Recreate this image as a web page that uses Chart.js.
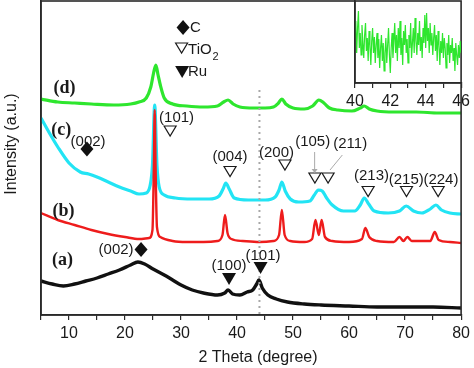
<!DOCTYPE html>
<html><head><meta charset="utf-8">
<script src="https://cdn.jsdelivr.net/npm/chart.js@4"></script>
<style>
html,body{margin:0;padding:0;background:#fff;}
#wrap{position:relative;width:474px;height:368px;overflow:hidden;}
#main{position:absolute;left:0;top:0;}
#inset{position:absolute;left:342px;top:0;}
</style></head><body>
<div id="wrap"><canvas id="main" width="474" height="368"></canvas><canvas id="inset" width="132" height="112"></canvas></div>
<script>
// ---- data (2 theta in degrees, intensity in arbitrary units with vertical offsets) ----
const seriesA = [[5,34],[7,31],[9,29],[11,31],[13,34],[15,37],[17,41],[19,45],[21,50],[22.3,53],[23.5,51],[25,46],[27,40],[28.5,35],[30,30],[32,25],[34,22],[36.5,20],[37.8,22],[38.4,25],[39.2,21],[40.5,20],[41.8,23],[42.8,25],[43.5,31],[43.9,35],[44.5,27],[45.5,20],[47,16],[49,13],[52,11],[55,10],[60,9],[65,8],[70,8],[75,8],[80,7]];
const seriesB = [[5,102],[8,95],[11,90],[14,85],[17,81],[20,78],[22.5,76],[24.3,77],[24.9,85],[25.15,150],[25.3,205],[25.45,150],[25.7,88],[26.3,78],[28.5,74],[31,73],[34,73],[36.5,74],[37.4,80],[37.85,100],[38.3,82],[39,76],[41,74],[44,73],[46.5,74],[47.5,80],[48,105],[48.5,80],[49.5,74],[52,73],[53.4,76],[54,95],[54.6,80],[55.1,95],[55.7,78],[57,74],[60,73],[62.3,76],[62.9,87],[63.6,78],[65,74],[68,73],[69,78],[69.7,74],[70.4,78],[71.2,74],[74.5,74],[75.3,83],[76,75],[78,73],[80,72]];
const seriesC = [[5,197],[6.5,182],[8,168],[10,152],[12,143],[13.5,141],[15,138],[17,133],[19,128],[21,124],[22.5,121],[23.8,122],[24.5,130],[24.9,150],[25.3,210],[25.7,150],[26.1,128],[27,120],[29,117],[32,116],[35,116],[36.8,119],[37.5,126],[38,132],[38.6,126],[39.5,117],[42,115],[45,115],[46.8,118],[47.5,125],[48,133],[48.6,124],[49.5,116],[51,113],[53,114],[53.8,120],[54.5,125],[55.2,124],[56,117],[57,110],[59,104],[61,104],[62,110],[62.7,117],[63.5,111],[64.5,104],[67,102],[69,104],[70.2,109],[71.5,104],[73,102],[74.5,106],[75.5,110],[76.5,105],[78,102],[80,101]];
const seriesD = [[5,216],[8,213],[11,212],[14,211],[18,210],[21,211],[22.5,213],[23.8,217],[24.6,228],[25.1,242],[25.5,250],[25.9,240],[26.3,230],[27,217],[28.5,211],[31,209],[34,208],[36.5,209],[37.6,213],[38.4,215],[39.3,211],[40.5,208],[43,207],[45,207],[46.5,208],[47.4,212],[48,216],[48.7,211],[50,207],[52,206],[53.5,209],[54.6,215],[55.5,212],[56.5,207],[58,205],[60.5,204],[62,207],[62.7,209],[63.6,206],[65,204],[68,203],[72,203],[76,202],[80,202]];
const xTicksMain = [10,20,30,40,50,60,70,80];
// inset: green sample (d) zoomed 40-46 deg
const insetStart = 40, insetStep = 0.05;
const insetValues = [45,62,30,55,72,35,50,28,58,40, 25,48,60,32,45,22,52,38,18,42, 55,30,46,20,38,50,25,44,15,35, 48,22,40,12,30,45,20,38,55,28, 10,35,50,25,42,60,30,48,22,55, 35,62,28,45,18,52,38,58,30,44, 20,48,35,60,25,40,55,30,65,42, 28,50,38,62,32,46,25,55,40,68, 35,70,42,55,30,60,38,50,28,45, 58,32,48,22,52,38,18,42,30,50, 25,45,35,15,40,28,48,20,38,30, 45,22,35,12,40,28,18,38,25,42, 30];
const xTicksInset = [40,42,44,46];

// ---- annotation positions (deg, value) ----
const sampleLabels = [['(d)',9.2,227],['(c)',8.6,185],['(b)',9.0,104],['(a)',8.85,54.5]];
const hklOpen = [ // text, text deg, text v, marker deg, marker v
  ['(101)',29.2,197,28.05,184],['(004)',38.75,158.5,38.75,143.5],['(200)',47.05,162.5,48.55,150],
  ['(105)',53.5,173.5,53.9,137],['(211)',60.2,171.5,56.25,137],
  ['(213)',64.0,139.5,63.4,123.5],['(215)',70.2,135.5,70.25,123.5],['(224)',76.4,135.5,75.9,123.5]];
const hklFilled = [['(100)',38.57,49.5,38.57,36],['(101)',44.64,59.5,44.2,47]];
const hklCarbon = [['(002)',13.4,173,13.2,166],['(002)',18.4,65.5,22.86,65.5]];

const FONT = "'Liberation Sans', Arial, sans-serif";
const SERIF = "'Liberation Serif', 'Times New Roman', serif";

function triOpen(c,x,y){c.beginPath();c.moveTo(x-6,y-5);c.lineTo(x+6,y-5);c.lineTo(x,y+5);c.closePath();c.lineWidth=1.2;c.strokeStyle='#1a1a1a';c.stroke();}
function triFilled(c,x,y){c.beginPath();c.moveTo(x-7,y-6);c.lineTo(x+7,y-6);c.lineTo(x,y+6);c.closePath();c.fillStyle='#111';c.fill();}
function diamond(c,x,y){c.beginPath();c.moveTo(x,y-7.5);c.lineTo(x+6.5,y);c.lineTo(x,y+7.5);c.lineTo(x-6.5,y);c.closePath();c.fillStyle='#111';c.fill();}

const annot = {
  id:'annot',
  afterDatasetsDraw(chart){
    const c=chart.ctx, xs=chart.scales.x, ys=chart.scales.y, a=chart.chartArea;
    const X=d=>xs.getPixelForValue(d), Y=v=>ys.getPixelForValue(v);
    c.save();
    // dotted reference line at 44 deg
    c.strokeStyle='#a8a8a8'; c.lineWidth=2; c.setLineDash([2,4]);
    c.beginPath(); c.moveTo(X(44),Y(225)); c.lineTo(X(44),a.bottom); c.stroke();
    c.setLineDash([]);
    // frame
    c.strokeStyle='#2a2a2a'; c.lineWidth=1.6;
    c.strokeRect(a.left,a.top,a.right-a.left,a.bottom-a.top);
    // sample labels
    c.fillStyle='#1a1a1a'; c.textAlign='center'; c.textBaseline='middle';
    c.font="bold 18px "+SERIF;
    sampleLabels.forEach(s=>c.fillText(s[0],X(s[1]),Y(s[2])));
    // hkl labels
    c.font="15px "+FONT;
    hklOpen.forEach(h=>{c.fillStyle='#1a1a1a';c.fillText(h[0],X(h[1]),Y(h[2]));triOpen(c,X(h[3]),Y(h[4]));});
    hklFilled.forEach(h=>{c.fillStyle='#1a1a1a';c.fillText(h[0],X(h[1]),Y(h[2]));triFilled(c,X(h[3]),Y(h[4]));});
    hklCarbon.forEach(h=>{c.fillStyle='#1a1a1a';c.fillText(h[0],X(h[1]),Y(h[2]));diamond(c,X(h[3]),Y(h[4]));});
    // gray arrows for (105),(211)
    c.strokeStyle='#aaaaaa'; c.fillStyle='#aaaaaa'; c.lineWidth=1;
    c.beginPath(); c.moveTo(X(53.85),Y(163)); c.lineTo(X(53.85),Y(145)); c.stroke();
    c.beginPath(); c.moveTo(X(53.85)-3,Y(146)); c.lineTo(X(53.85)+3,Y(146)); c.lineTo(X(53.85),Y(142)); c.closePath(); c.fill();
    c.beginPath(); c.moveTo(X(58.8),Y(160)); c.lineTo(X(56.6),Y(145)); c.stroke();
    // legend
    c.textAlign='left'; c.fillStyle='#1a1a1a';
    diamond(c,X(30.36),Y(287.5)); c.fillStyle='#1a1a1a'; c.fillText('C',X(31.6),Y(287));
    triOpen(c,X(30.1),Y(267)); c.fillStyle='#1a1a1a'; c.fillText('TiO',X(31.25),Y(265.5));
    c.font="11px "+FONT; c.fillText('2',X(35.6),Y(258));
    c.font="15px "+FONT;
    triFilled(c,X(30.2),Y(243)); c.fillStyle='#1a1a1a'; c.fillText('Ru',X(31.25),Y(243));
    // axis titles
    c.textAlign='center'; c.font="16px "+FONT; c.fillStyle='#1a1a1a';
    c.fillText('2 Theta (degree)',258,358);
    c.translate(12,144); c.rotate(-Math.PI/2); c.font="16px "+FONT; c.fillText('Intensity (a.u.)',0,0);
    c.restore();
  }
};

const mk=(d,col,w)=>({data:d.map(p=>({x:p[0],y:p[1]})),borderColor:col,borderWidth:w,pointRadius:0,fill:false,cubicInterpolationMode:'monotone'});

new Chart(document.getElementById('main'),{
  type:'line',
  data:{datasets:[mk(seriesA,'#111111',3.4),mk(seriesB,'#ee1c1c',2.4),mk(seriesC,'#22e4f4',3.2),mk(seriesD,'#2ee62e',3.2)]},
  options:{
    responsive:false, animation:false, devicePixelRatio:1,
    layout:{padding:{top:1,right:10,left:0,bottom:0}},
    plugins:{legend:{display:false},tooltip:{enabled:false}},
    scales:{
      x:{type:'linear',min:5,max:80,
         ticks:{stepSize:5,autoSkip:false,maxRotation:0,callback:v=>xTicksMain.includes(v)?String(v):'',font:{family:FONT,size:16},color:'#1a1a1a',padding:4},
         grid:{drawOnChartArea:false,tickLength:5,color:'#2a2a2a',lineWidth:1.2},
         border:{display:true,color:'#2a2a2a',width:1.6},
         afterFit:s=>{s.height=53;}},
      y:{type:'linear',min:0,max:314,ticks:{display:false},grid:{display:false},
         border:{display:true,color:'#2a2a2a',width:1.6},
         afterFit:s=>{s.width=41;}}
    }
  },
  plugins:[annot]
});

const insetFrame={id:'insetFrame',afterDatasetsDraw(chart){const c=chart.ctx,a=chart.chartArea;c.save();c.strokeStyle='#2a2a2a';c.lineWidth=1.6;c.beginPath();c.moveTo(a.left,a.top);c.lineTo(a.left,a.bottom);c.lineTo(a.right,a.bottom);c.stroke();c.restore();}};
new Chart(document.getElementById('inset'),{
  type:'line',
  data:{datasets:[{data:insetValues.map((v,i)=>({x:insetStart+i*insetStep,y:v})),borderColor:'#2ee62e',borderWidth:1.2,pointRadius:0,fill:false,tension:0}]},
  options:{
    responsive:false, animation:false, devicePixelRatio:1,
    layout:{padding:{top:1,right:10,left:0,bottom:0}},
    plugins:{legend:{display:false},tooltip:{enabled:false}},
    scales:{
      x:{type:'linear',min:40,max:46,
         ticks:{stepSize:1,autoSkip:false,maxRotation:0,callback:v=>xTicksInset.includes(v)?String(v):'',font:{family:FONT,size:16},color:'#1a1a1a',padding:4},
         grid:{drawOnChartArea:false,tickLength:5,color:'#2a2a2a',lineWidth:1.2},
         border:{display:true,color:'#2a2a2a',width:1.6},
         afterFit:s=>{s.height=29;}},
      y:{type:'linear',min:0,max:82,ticks:{display:false},grid:{display:false},
         border:{display:true,color:'#2a2a2a',width:1.6},
         afterFit:s=>{s.width=11;}}
    }
  },
  plugins:[insetFrame]
});
</script>
</body></html>
